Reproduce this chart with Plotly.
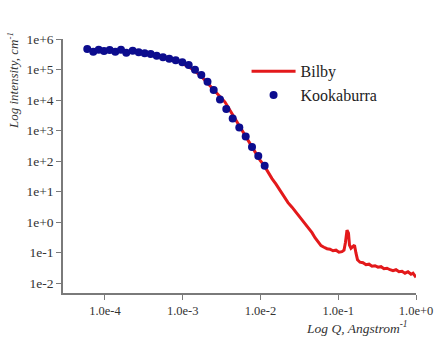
import plotly.graph_objects as go

# Bilby (line): Q in 1/Angstrom, intensity in 1/cm
bilby_q = [1.007e-3, 1.203e-3, 1.438e-3, 1.717e-3, 2.050e-3, 2.449e-3, 2.925e-3,
           3.494e-3, 4.175e-3, 4.985e-3, 5.955e-3, 7.113e-3, 8.496e-3, 9.854e-3,
           1.126e-2, 1.249e-2, 1.406e-2, 1.583e-2, 1.782e-2, 2.006e-2, 2.258e-2,
           2.542e-2, 2.861e-2, 3.221e-2, 3.521e-2, 3.847e-2, 4.205e-2, 4.596e-2,
           5.023e-2, 5.489e-2, 6.0e-2, 6.557e-2, 7.166e-2, 7.832e-2, 8.559e-2,
           9.356e-2, 0.1022, 0.1117, 0.1186, 0.1239, 0.1296, 0.1354, 0.1395,
           0.1459, 0.1548, 0.1618, 0.1691, 0.1768, 0.1904, 0.2081, 0.2275,
           0.2486, 0.2717, 0.2970, 0.3245, 0.3547, 0.3876, 0.4236, 0.4630,
           0.5060, 0.5532, 0.6045, 0.6607, 0.7220, 0.7889, 0.8623, 0.9149, 1.0]
bilby_i = [1.515e5, 1.208e5, 8.93e4, 6.12e4, 3.75e4, 2.29e4, 1.46e4,
           8.60e3, 4.04e3, 1.90e3, 860, 404, 205, 108,
           68.6, 43.6, 26.7, 17.6, 10.8, 7.12, 4.36,
           3.10, 2.13, 1.459, 1.12, 0.797, 0.636, 0.453,
           0.310, 0.221, 0.170, 0.151, 0.135, 0.130, 0.116,
           0.121, 0.104, 0.108, 0.121, 0.221, 0.547, 0.436, 0.176,
           0.140, 0.163, 0.176, 0.0963, 0.0590, 0.0488, 0.0470, 0.0404,
           0.0420, 0.0361, 0.0375, 0.0335, 0.0348, 0.0299, 0.0310, 0.0277,
           0.0257, 0.0277, 0.0238, 0.0247, 0.0213, 0.0238, 0.0197, 0.0213, 0.0157]

# Kookaburra (points)
kook_q = [5.92e-5, 7.07e-5, 8.30e-5, 9.71e-5, 1.149e-4, 1.357e-4, 1.606e-4, 1.879e-4,
          2.271e-4, 2.713e-4, 3.240e-4, 3.871e-4, 4.624e-4, 5.572e-4, 6.714e-4,
          8.117e-4, 9.867e-4, 1.193e-3, 1.438e-3, 1.733e-3, 2.082e-3, 2.501e-3,
          3.013e-3, 3.632e-3, 4.389e-3, 5.338e-3, 6.451e-3, 7.776e-3, 9.370e-3, 1.132e-2]
kook_i = [4.70e5, 3.84e5, 4.46e5, 4.05e5, 4.36e5, 3.84e5, 4.46e5, 3.56e5,
          4.13e5, 3.66e5, 3.40e5, 3.22e5, 2.83e5, 2.51e5, 2.26e5,
          2.00e5, 1.72e5, 1.41e5, 9.85e4, 6.61e4, 3.95e4, 2.13e4,
          1.05e4, 5.07e3, 2.51e3, 1.27e3, 646, 288, 146, 71.1]

x_tickvals = [1e-4, 1e-3, 1e-2, 1e-1, 1e0]
x_ticktext = ["1.0e-4", "1.0e-3", "1.0e-2", "1.0e-1", "1.0e+0"]
y_tickvals = [1e-2, 1e-1, 1e0, 1e1, 1e2, 1e3, 1e4, 1e5, 1e6]
y_ticktext = ["1e-2", "1e-1", "1e+0", "1e+1", "1e+2", "1e+3", "1e+4", "1e+5", "1e+6"]

SERIF = "Liberation Serif"
AXIS_GRAY = "#7a7a7a"
TEXT = "#333333"

fig = go.Figure()
fig.add_trace(go.Scatter(x=bilby_q, y=bilby_i, mode="lines", name="Bilby",
                         line=dict(color="#e3191b", width=3)))
fig.add_trace(go.Scatter(x=kook_q, y=kook_i, mode="markers", name="Kookaburra",
                         marker=dict(color="#0c0c8e", size=8)))

fig.update_layout(
    width=436, height=337,
    margin=dict(l=63, r=20, t=39, b=44, autoexpand=False),
    paper_bgcolor="white", plot_bgcolor="white",
    font=dict(family=SERIF, color=TEXT, size=13),
    showlegend=True,
    legend=dict(x=0.52, y=0.94, xanchor="left", yanchor="top",
                font=dict(family=SERIF, size=16, color="#222222"),
                bgcolor="rgba(0,0,0,0)", itemwidth=44, tracegroupgap=0),
    xaxis=dict(type="log", range=[-4.54, 0.0], tickvals=x_tickvals, ticktext=x_ticktext,
               showgrid=False, zeroline=False, showline=True, linecolor=AXIS_GRAY,
               linewidth=1.5, ticks="outside", ticklen=5, tickcolor=AXIS_GRAY,
               tickwidth=1.2, tickfont=dict(family=SERIF, size=12.5, color=TEXT),
               ticklabelstandoff=0, automargin=False),
    yaxis=dict(type="log", range=[-2.32, 6.0], tickvals=y_tickvals, ticktext=y_ticktext,
               showgrid=False, zeroline=False, showline=True, linecolor=AXIS_GRAY,
               linewidth=1.5, ticks="outside", ticklen=5, tickcolor=AXIS_GRAY,
               tickwidth=1.2, tickfont=dict(family=SERIF, size=13.5, color=TEXT),
               automargin=False),
    annotations=[
        dict(text="<i>Log intensity, cm</i><sup><i>-1</i></sup>", xref="paper", yref="paper",
             x=-0.142, y=0.838, textangle=-90, showarrow=False,
             font=dict(family=SERIF, size=13, color=TEXT), xanchor="center", yanchor="middle"),
        dict(text="<i>Log Q, Angstrom</i><sup><i>-1</i></sup>", xref="paper", yref="paper",
             x=0.983, y=-0.135, showarrow=False, xanchor="right", yanchor="middle",
             font=dict(family=SERIF, size=13.5, color=TEXT)),
    ],
)

fig.write_html(
    "out.html",
    config={"displayModeBar": False},
    post_script="document.body.style.margin='0';document.body.style.padding='0';"
                "document.body.style.overflow='hidden';",
)
